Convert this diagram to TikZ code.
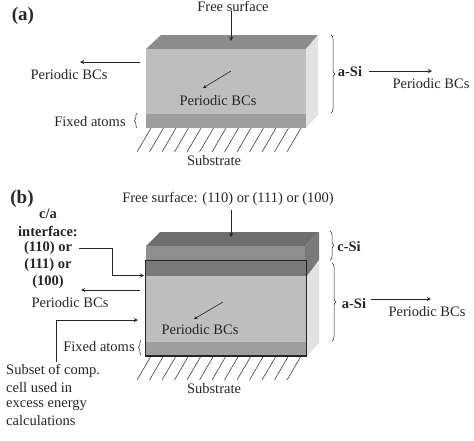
\documentclass[tikz,border=0pt]{standalone}
\usepackage{fontspec}
\setmainfont{Liberation Serif}
\usetikzlibrary{decorations.pathreplacing}
\definecolor{grTop}{HTML}{8C8C8C}
\definecolor{grFront}{HTML}{BEBEBE}
\definecolor{grBand}{HTML}{9E9E9E}
\definecolor{grSide}{HTML}{E2E2E2}
\definecolor{grCTop}{HTML}{6E6E6E}
\definecolor{grCFront}{HTML}{8E8E8E}
\definecolor{grCBand}{HTML}{7A7A7A}
\definecolor{txt}{HTML}{262626}
\tikzset{
  lbl/.style={inner sep=0pt,text=txt,font=\fontsize{14.5}{17}\selectfont},
  lblb/.style={lbl,font=\fontsize{14.5}{17}\selectfont\bfseries},
  tag/.style={lbl,font=\fontsize{19}{22}\selectfont\bfseries},
  arw/.style={-stealth,line width=0.9pt,draw=txt},
  hatch/.style={line width=0.5pt,draw=txt},
  brc/.style={decorate,decoration={brace,amplitude=4pt},line width=0.5pt,draw=txt}
}
\begin{document}
\begin{tikzpicture}[x=1pt,y=-1pt]
\useasboundingbox (0,0) rectangle (474,440);
\fill[grTop] (146,49) -- (161,35) -- (318,35) -- (306,49) -- cycle;
\fill[grFront] (146,49) rectangle (306,114);
\fill[grBand] (146,114) rectangle (306,128);
\fill[grSide] (306,49) -- (318,35) -- (318,115) -- (306,128) -- cycle;
\draw[hatch] (137,152) -- (151,128);
\draw[hatch] (149.5,152) -- (163.5,128);
\draw[hatch] (162,152) -- (176,128);
\draw[hatch] (174.5,152) -- (188.5,128);
\draw[hatch] (187,152) -- (201,128);
\draw[hatch] (199.5,152) -- (213.5,128);
\draw[hatch] (212,152) -- (226,128);
\draw[hatch] (224.5,152) -- (238.5,128);
\draw[hatch] (237,152) -- (251,128);
\draw[hatch] (249.5,152) -- (263.5,128);
\draw[hatch] (262,152) -- (276,128);
\draw[hatch] (274.5,152) -- (288.5,128);
\draw[hatch] (287,152) -- (301,128);
\node[tag] (tagA) at (23,16) {(a)};
\node[lbl] (freeA) at (233,6) {Free surface};
\coordinate (freeAend) at (231,41);
\draw[arw] (freeA.south -| freeAend) -- (freeAend);
\node[lbl] (perA1) at (69,75) {Periodic BCs};
\coordinate (perA1s) at (140,62);
\coordinate (perA1e) at (80,62);
\draw[arw] (perA1s) -- (perA1e);
\node[lbl] (perA2) at (218,101) {Periodic BCs};
\coordinate (perA2s) at (231,71);
\coordinate (perA2e) at (203,88);
\draw[arw,line width=0.6pt] (perA2s) -- (perA2e);
\node[lbl] (fixA) at (90,122) {Fixed atoms};
\coordinate (fixAb) at (137,128);
\coordinate (fixAt) at (137,113);
\draw[brc,decoration={amplitude=2.5pt}] (fixAb) -- (fixAt);
\node[lbl] (subA) at (214,161) {Substrate};
\coordinate (siAt) at (331,35);
\coordinate (siAb) at (331,113);
\draw[brc] (siAt) -- (siAb);
\node[lblb] (siA) at (350,72) {a-Si};
\node[lbl] (perA3) at (431,84) {Periodic BCs};
\coordinate (perA3e) at (432,71);
\draw[arw] (siA.east |- perA3e) ++(7,0) -- (perA3e);
\fill[grCTop] (146,246) -- (160,232) -- (319,232) -- (305,246) -- cycle;
\fill[grCFront] (146,246) rectangle (305,260);
\fill[grCFront!85!black] (305,246) -- (319,232) -- (319,260) -- (307,276) -- (305,260) -- cycle;
\fill[grSide] (307,276) -- (319,262) -- (319,343) -- (307,356) -- cycle;
\fill[grCBand] (146,260) rectangle (307,276);
\fill[grFront] (146,276) rectangle (307,342);
\fill[grBand] (146,342) rectangle (307,356);
\draw[line width=1.1pt,draw=black!85] (145.5,260.5) rectangle (306.5,356);
\draw[hatch] (137,380) -- (151,356);
\draw[hatch] (149.5,380) -- (163.5,356);
\draw[hatch] (162,380) -- (176,356);
\draw[hatch] (174.5,380) -- (188.5,356);
\draw[hatch] (187,380) -- (201,356);
\draw[hatch] (199.5,380) -- (213.5,356);
\draw[hatch] (212,380) -- (226,356);
\draw[hatch] (224.5,380) -- (238.5,356);
\draw[hatch] (237,380) -- (251,356);
\draw[hatch] (249.5,380) -- (263.5,356);
\draw[hatch] (262,380) -- (276,356);
\draw[hatch] (274.5,380) -- (288.5,356);
\draw[hatch] (287,380) -- (301,356);
\node[tag] (tagB) at (22,199) {(b)};
\node[lbl] (freeB) at (228,199) {Free surface: (110) or (111) or (100)};
\coordinate (freeBs) at (231,210);
\coordinate (freeBe) at (231,237);
\draw[arw] (freeBs) -- (freeBe);
\node[lblb] (ifaceA) at (48,214) {c/a};
\node[lblb] (ifaceB) at (48,231) {interface:};
\node[lblb] (ifaceC) at (48,248) {(110) or};
\node[lblb] (ifaceD) at (48,265) {(111) or};
\node[lblb] (ifaceE) at (48,282) {(100)};
\coordinate (ifaceEnd) at (144,275.5);
\draw[arw] (ifaceC.east) ++(7,0) -- (112,248) -- (112,275.5) -- (ifaceEnd);
\node[lbl] (perB1) at (70,303) {Periodic BCs};
\coordinate (perB1s) at (140,290);
\coordinate (perB1e) at (81,290);
\draw[arw] (perB1s) -- (perB1e);
\node[lbl] (perB2) at (200,330) {Periodic BCs};
\coordinate (perB2s) at (223,302);
\coordinate (perB2e) at (194,319);
\draw[arw,line width=0.6pt] (perB2s) -- (perB2e);
\node[lbl] (fixB) at (99,347) {Fixed atoms};
\coordinate (fixBb) at (141,355);
\coordinate (fixBt) at (141,340);
\draw[brc,decoration={amplitude=2.5pt}] (fixBb) -- (fixBt);
\node[lbl] (subB) at (214,389) {Substrate};
\node[lbl,anchor=west] (subsetA) at (6,371) {Subset of comp.};
\node[lbl,anchor=west] (subsetB) at (6,388) {cell used in};
\node[lbl,anchor=west] (subsetC) at (6,405) {excess energy};
\node[lbl,anchor=west] (subsetD) at (6,421) {calculations};
\coordinate (subsetS) at (56,362);
\coordinate (subsetE) at (138,320);
\draw[arw] (subsetS) -- (56,320) -- (subsetE);
\coordinate (siCt) at (330,231);
\coordinate (siCb) at (330,260);
\draw[brc] (siCt) -- (siCb);
\node[lblb] (siC) at (349,247) {c-Si};
\coordinate (siBt) at (332,263);
\coordinate (siBb) at (332,341);
\draw[brc] (siBt) -- (siBb);
\node[lblb] (siB) at (354,304) {a-Si};
\node[lbl] (perB3) at (427,312) {Periodic BCs};
\coordinate (perB3e) at (431,299);
\draw[arw] (siB.east |- perB3e) ++(5,0) -- (perB3e);
\end{tikzpicture}
\end{document}
